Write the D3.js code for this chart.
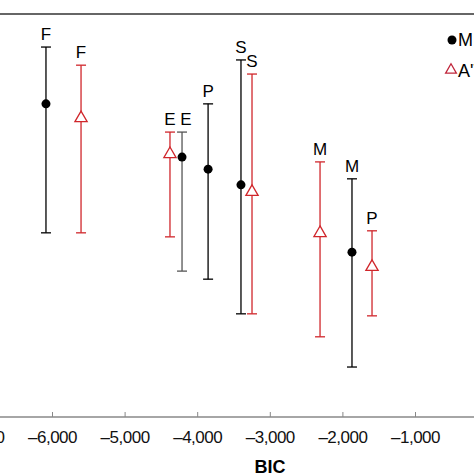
<!DOCTYPE html><html><head><meta charset="utf-8"><script src="https://cdn.jsdelivr.net/npm/d3@7"></script>
<style>body{margin:0;background:#fff}</style></head><body><svg id="c" width="474" height="474"></svg><script>
const labels=["F","F","E","E","P","S","S","M","M","P"];
const series=["black","red","red","grey","black","black","red","red","black","red"];
const bic=[-6083,-5600,-4375,-4209,-3850,-3397,-3245,-2308,-1868,-1592];
const est=[7.77,7.44,6.55,6.45,6.15,5.76,5.61,4.59,4.09,3.75];
const hi=[9.18,8.73,7.07,7.07,7.77,8.86,8.51,6.33,5.91,4.62];
const lo=[4.57,4.57,4.47,3.62,3.42,2.56,2.56,1.99,1.24,2.51];
const xTicks=[-7000,-6000,-5000,-4000,-3000,-2000,-1000];
const svg=d3.select("#c");
const x=d3.scaleLinear().domain([-6000,-1000]).range([52,415]);
const y=d3.scaleLinear().domain([0,10]).range([417,14]);
const col={black:"#000",red:"#d0262b",grey:"#555"};
const ff="Liberation Sans, Arial";
svg.append("line").attr("x1",0).attr("x2",474).attr("y1",y(10)).attr("y2",y(10)).attr("stroke","#333").attr("stroke-width",1.5);
const ax=svg.append("g").attr("transform","translate(0,417)").call(d3.axisBottom(x).tickValues(xTicks).tickSize(5).tickSizeOuter(0).tickFormat(d=>"\u2013"+d3.format(",")(-d)));
ax.select(".domain").remove();
svg.append("line").attr("x1",0).attr("x2",474).attr("y1",417).attr("y2",417).attr("stroke","#888").attr("stroke-width",1.5);
ax.selectAll(".tick line").attr("stroke","#888").attr("y1",-5).attr("y2",0);
ax.selectAll("text").attr("font-family",ff).attr("font-size",17).attr("letter-spacing",-0.5).attr("fill","#111").attr("dy","1.05em");
svg.append("text").attr("x",270).attr("y",473).attr("text-anchor","middle").attr("font-family",ff).attr("font-weight","bold").attr("font-size",18).text("BIC");
bic.forEach((b,i)=>{const c=col[series[i]],cx=x(b);
 const g=svg.append("g");
 g.append("line").attr("x1",cx).attr("x2",cx).attr("y1",y(hi[i])).attr("y2",y(lo[i])).attr("stroke",c).attr("stroke-width",1.3);
 [hi[i],lo[i]].forEach(v=>g.append("line").attr("x1",cx-5).attr("x2",cx+5).attr("y1",y(v)).attr("y2",y(v)).attr("stroke",c).attr("stroke-width",1.3));
 if(series[i]==="red") g.append("path").attr("d",d3.symbol(d3.symbolTriangle,65)()).attr("transform",`translate(${cx},${y(est[i])+1})`).attr("fill","#fff").attr("stroke",c).attr("stroke-width",1.3);
 else g.append("circle").attr("cx",cx).attr("cy",y(est[i])).attr("r",4.5).attr("fill","#000");
 g.append("text").attr("x",cx+(i===3?4:0)).attr("y",y(hi[i])-7).attr("text-anchor","middle").attr("font-family",ff).attr("font-size",17).text(labels[i]);
});
svg.append("circle").attr("cx",452).attr("cy",40).attr("r",4.5).attr("fill","#000");
svg.append("text").attr("x",458).attr("y",46).attr("font-family",ff).attr("font-size",18).text("MLR");
svg.append("path").attr("d",d3.symbol(d3.symbolTriangle,50)()).attr("transform","translate(451,70)").attr("fill","#fff").attr("stroke","#c0263b").attr("stroke-width",1.3);
svg.append("text").attr("x",458).attr("y",77).attr("font-family",ff).attr("font-size",18).text("A'T");
</script></body></html>
